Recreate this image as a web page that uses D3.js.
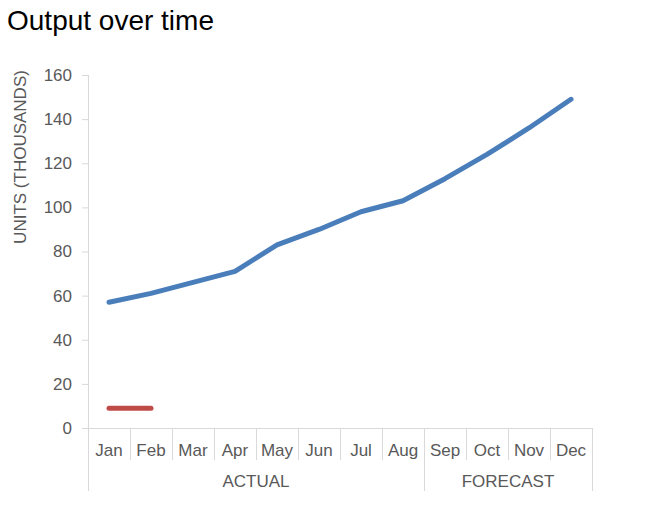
<!DOCTYPE html>
<html>
<head>
<meta charset="utf-8">
<script src="https://cdn.jsdelivr.net/npm/d3@7"></script>
<style>
  body { margin: 0; background: #fff; }
  text { font-family: "Liberation Sans", Arial, sans-serif; }
</style>
</head>
<body>
<svg id="chart" width="647" height="509"></svg>
<script>
var months = ["Jan","Feb","Mar","Apr","May","Jun","Jul","Aug","Sep","Oct","Nov","Dec"];
var output = [57, 61, 66, 71, 83, 90, 98, 103, 113, 124, 136, 149];
var redSeries = [9, 9];
var groups = [{name: "ACTUAL", from: 0, to: 8}, {name: "FORECAST", from: 8, to: 12}];
var yTicks = [0, 20, 40, 60, 80, 100, 120, 140, 160];

var svg = d3.select("#chart");
var plotLeft = 88, plotRight = 592, plotTop = 75, plotBottom = 428;
var grey = "#d9d9d9", textCol = "#595959";

var x = d3.scaleBand().domain(months).range([plotLeft, plotRight]);
var y = d3.scaleLinear().domain([0, 160]).range([plotBottom, plotTop]);

// title
svg.append("text")
    .attr("x", 7).attr("y", 30)
    .attr("font-size", 28)
    .attr("fill", "#000")
    .text("Output over time");

// y axis
var yAxis = svg.append("g")
    .attr("transform", "translate(" + plotLeft + ",0)")
    .call(d3.axisLeft(y).tickValues(yTicks).tickSize(6).tickPadding(10).tickSizeOuter(0));
yAxis.select(".domain").remove();
yAxis.selectAll("line").attr("stroke", grey);
yAxis.selectAll("text").attr("font-size", 17).attr("fill", textCol)
    .attr("font-family", "Liberation Sans, Arial, sans-serif");

svg.append("line")
    .attr("x1", plotLeft + 0.5).attr("x2", plotLeft + 0.5)
    .attr("y1", plotTop).attr("y2", 491)
    .attr("stroke", grey);

// x axis baseline
svg.append("line")
    .attr("x1", plotLeft - 6).attr("x2", plotRight)
    .attr("y1", plotBottom + 0.5).attr("y2", plotBottom + 0.5)
    .attr("stroke", grey);

// month separators
svg.selectAll(".sep")
    .data(months.slice(1))
    .enter()
    .append("line")
    .attr("class", "sep")
    .attr("x1", function(d) { return Math.round(x(d)) + 0.5; })
    .attr("x2", function(d) { return Math.round(x(d)) + 0.5; })
    .attr("y1", plotBottom)
    .attr("y2", function(d) { return d == "Sep" ? 491 : 460; })
    .attr("stroke", grey);

svg.append("line")
    .attr("x1", plotRight + 0.5).attr("x2", plotRight + 0.5)
    .attr("y1", plotBottom).attr("y2", 491)
    .attr("stroke", grey);

svg.selectAll(".mlab")
    .data(months)
    .enter()
    .append("text")
    .attr("class", "mlab")
    .attr("x", function(d) { return x(d) + x.bandwidth() / 2; })
    .attr("y", 456)
    .attr("text-anchor", "middle")
    .attr("font-size", 17)
    .attr("fill", textCol)
    .text(function(d) { return d; });

svg.selectAll(".glab")
    .data(groups)
    .enter()
    .append("text")
    .attr("class", "glab")
    .attr("x", function(d) { return (x(months[d.from]) + x(months[d.to - 1]) + x.bandwidth()) / 2; })
    .attr("y", 487)
    .attr("text-anchor", "middle")
    .attr("font-size", 17)
    .attr("fill", textCol)
    .text(function(d) { return d.name; });

// y label
svg.append("text")
    .attr("transform", "translate(26,157) rotate(-90)")
    .attr("text-anchor", "middle")
    .attr("font-size", 17)
    .attr("fill", textCol)
    .text("UNITS (THOUSANDS)");

var line = d3.line()
    .x(function(d, i) { return x(months[i]) + x.bandwidth() / 2; })
    .y(function(d) { return y(d); });

svg.append("path")
    .datum(output)
    .attr("d", line)
    .attr("fill", "none")
    .attr("stroke", "#4a7ebb")
    .attr("stroke-width", 5)
    .attr("stroke-linecap", "round")
    .attr("stroke-linejoin", "round");

svg.append("path")
    .datum(redSeries)
    .attr("d", line)
    .attr("fill", "none")
    .attr("stroke", "#be4b48")
    .attr("stroke-width", 5)
    .attr("stroke-linecap", "round");
</script>
</body>
</html>
